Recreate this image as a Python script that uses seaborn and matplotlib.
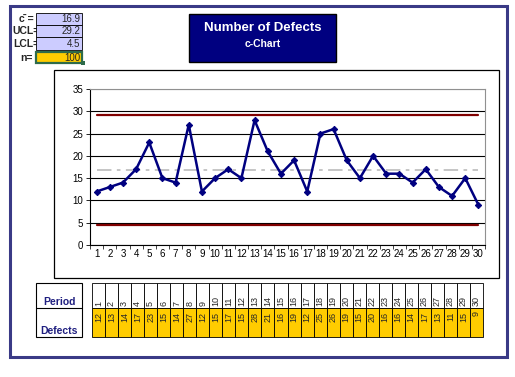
import numpy as np
import pandas as pd
import seaborn as sns
import matplotlib.pyplot as plt
from matplotlib.patches import Rectangle

# Data
periods = list(range(1, 31))
defects = [12, 13, 14, 17, 23, 15, 14, 27, 12, 15, 17, 15, 28, 21, 16,
           19, 12, 25, 26, 19, 15, 20, 16, 16, 14, 17, 13, 11, 15, 9]
c_bar = 16.9
ucl = 29.2
lcl = 4.5
n_size = 100
stat_labels = ['c\u0304 =', 'UCL=', 'LCL=', 'n=']
stat_values = [c_bar, ucl, lcl, n_size]

df = pd.DataFrame({'Period': periods, 'Defects': defects})

sns.set_style('white')
plt.rcParams['font.family'] = ['Liberation Sans', 'DejaVu Sans']

W, H = 515, 377
fig = plt.figure(figsize=(W / 100, H / 100), dpi=100)

# overlay axes in pixel coordinates for the sheet decorations
bg = fig.add_axes([0, 0, 1, 1])
bg.set_xlim(0, W)
bg.set_ylim(H, 0)
bg.axis('off')

navy = '#000080'
yellow = '#FFCC00'
lav = '#CCCCFF'

# outer frame
bg.add_patch(Rectangle((9.5, 6), 497.5, 351, fill=False, ec='#3A3A86', lw=2.2))
# chart area frame
bg.add_patch(Rectangle((54, 70), 445, 208, fill=False, ec='black', lw=0.9))

# title box
bg.add_patch(Rectangle((189, 14), 147, 48, fc=navy, ec='black', lw=1))
bg.text(262.5, 28, 'Number of Defects', color='white', fontsize=9.5,
        fontweight='bold', ha='center', va='center')
bg.text(262.5, 44, 'c-Chart', color='white', fontsize=7.5,
        fontweight='bold', ha='center', va='center')

# stats block (labels sit under the cells, as in the sheet)
row_tops = [13, 25, 37, 52]
row_h = [12, 12, 13, 11]
for i, (lab, val) in enumerate(zip(stat_labels, stat_values)):
    top, h = row_tops[i], row_h[i]
    if lab == 'n=':
        bg.add_patch(Rectangle((36, top), 46, h, fc=yellow, ec='#2E6B4A',
                               lw=1.6, zorder=3))
        bg.add_patch(Rectangle((81, top + h - 2), 3.5, 3.5, fc='#2E6B4A',
                               ec='none', zorder=4))
        txt = f'{val}'
    else:
        bg.add_patch(Rectangle((36, top), 46, h, fc=lav, ec='black', lw=0.6,
                               zorder=3))
        txt = f'{val:.1f}'
    bg.text(80, top + h / 2 + 0.5, txt, fontsize=7, ha='right', va='center',
            zorder=5)
    bg.text(26, top + h / 2 + 0.5, lab, fontsize=7.5, fontweight='bold',
            ha='center', va='center', zorder=2)

# bottom table
bg.add_patch(Rectangle((36, 283), 46, 54, fill=False, ec='black', lw=0.8))
bg.plot([36, 82], [308, 308], color='black', lw=0.8)
bg.text(59, 302, 'Period', color='#1F1F80', fontsize=7.5, fontweight='bold',
        ha='center', va='center')
bg.text(59, 331, 'Defects', color='#1F1F80', fontsize=7.5, fontweight='bold',
        ha='center', va='center')

x0, x1 = 92, 483
cw = (x1 - x0) / len(periods)
for i, (p, d) in enumerate(zip(periods, defects)):
    cx = x0 + i * cw
    bg.add_patch(Rectangle((cx, 283), cw, 25, fc='white', ec='black', lw=0.6))
    bg.add_patch(Rectangle((cx, 308), cw, 29, fc=yellow, ec='black', lw=0.6))
    bg.text(cx + cw / 2, 306.5, str(p), rotation=90, fontsize=6.5,
            ha='center', va='bottom')
    bg.text(cx + cw / 2, 311.5, str(d), rotation=90, fontsize=6.5,
            ha='center', va='top')

# main chart
ax = fig.add_axes([90 / W, 1 - 245 / H, 395 / W, 156 / H])
sns.lineplot(data=df, x='Period', y='Defects', ax=ax, color=navy, lw=1.8,
             marker='D', markersize=3.2, markeredgecolor=navy, zorder=5)
ax.plot([periods[0], periods[-1]], [ucl, ucl], color='#800000', lw=1.6, zorder=4)
ax.plot([periods[0], periods[-1]], [lcl, lcl], color='#800000', lw=1.6, zorder=4)
ax.plot([periods[0], periods[-1]], [c_bar, c_bar], color='#C0C0C0', lw=1.3,
        linestyle=(0, (8, 3, 2, 3)), zorder=3)

ax.set_xlim(0.5, 30.5)
ax.set_ylim(0, 35)
ax.set_yticks(range(0, 36, 5))
ax.set_xticks(periods)
ax.set_xticks(np.arange(0.5, 31, 1), minor=True)
ax.yaxis.grid(True, color='black', lw=0.8)
ax.get_ygridlines()[-1].set_color('#909090')
ax.set_xlabel('')
ax.set_ylabel('')
ax.tick_params(axis='both', labelsize=7, colors='black')
ax.tick_params(axis='x', which='major', length=0, pad=3)
ax.tick_params(axis='x', which='minor', length=3, width=0.6, bottom=True)
ax.tick_params(axis='y', length=3, width=0.6, left=True, pad=2)
ax.spines['left'].set_color('black')
ax.spines['bottom'].set_color('black')
ax.spines['top'].set_color('#909090')
ax.spines['right'].set_color('#909090')
for s in ax.spines.values():
    s.set_linewidth(0.8)
if ax.get_legend():
    ax.get_legend().remove()

fig.savefig('out.png', dpi=100)
